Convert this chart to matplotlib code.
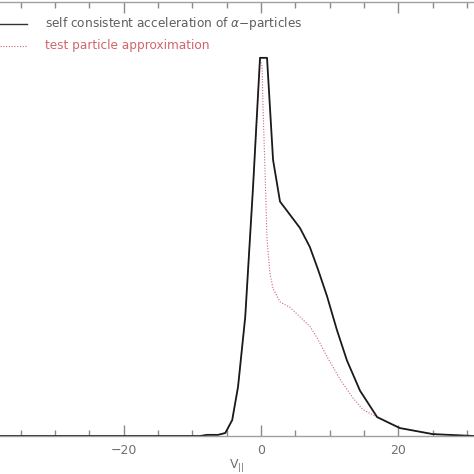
import matplotlib
matplotlib.use("Agg")
from matplotlib import pyplot as plt
from matplotlib.ticker import MultipleLocator

# self consistent acceleration (solid)
v_self = [-38, -8.9, -7.85, -6.25, -5.2, -4.2, -3.35, -2.3, -1.16, -0.15, 0.87, 1.75, 2.76,
          5.67, 7.1, 8.3, 9.6, 11.05, 12.5, 14.4, 16.9, 20.2, 25.0, 31]
f_self = [0, 0, 0.003, 0.003, 0.008, 0.042, 0.13, 0.315, 0.66, 1.0, 1.0, 0.73, 0.62,
          0.55, 0.50, 0.44, 0.37, 0.28, 0.20, 0.12, 0.05, 0.021, 0.005, 0]

# test particle approximation (dotted)
v_test = [-38, -8.9, -7.85, -6.25, -5.2, -4.2, -3.35, -2.3, -1.16, -0.15, 0.15, 0.29, 0.58,
          0.87, 1.3, 1.75, 2.76, 4.2, 5.67, 7.1, 8.15, 9.6, 11.5, 13.4, 14.8, 16.9, 20.2, 25.0, 31]
f_test = [0, 0, 0.003, 0.003, 0.008, 0.042, 0.13, 0.315, 0.66, 1.0, 0.976, 0.87, 0.70,
          0.52, 0.43, 0.39, 0.355, 0.34, 0.315, 0.29, 0.26, 0.21, 0.15, 0.10, 0.07, 0.05, 0.021, 0.005, 0]

labels = ["self consistent acceleration of $\\alpha$\u2212particles", "test particle approximation"]
xlabel = "V$_{||}$"

gray = "#5e5e5e"
red = "#d0646e"

fig = plt.figure(figsize=(4.74, 4.74), dpi=100)
ax = fig.add_axes([0, 38 / 474, 1, (436 - 1.5) / 474])

ax.plot(v_test, f_test, ls=(0, (1, 1.5)), lw=0.8, color=red)
ax.plot(v_self, f_self, ls="-", lw=1.3, color="#1a1a1a")

ax.set_xlim(-38, 31)
ax.set_ylim(0, 1.149)

for s in ["left", "right"]:
    ax.spines[s].set_visible(False)
for s in ["top", "bottom"]:
    ax.spines[s].set_color("#a0a0a0")
    ax.spines[s].set_linewidth(1.0)

ax.xaxis.set_major_locator(MultipleLocator(20))
ax.xaxis.set_minor_locator(MultipleLocator(5))
ax.tick_params(axis="x", which="both", direction="in", top=True, bottom=True,
               color="#8a8a8a", labelcolor="#707070", labelsize=9, pad=6)
ax.tick_params(axis="x", which="major", length=8, width=1)
ax.tick_params(axis="x", which="minor", length=4, width=1)
ax.set_yticks([])
ax.set_xlabel(xlabel, color="#707070", fontsize=9, labelpad=0)

# legend drawn by hand in axes-fraction coords
ax.plot([0, 27 / 474], [1 - 22 / 434.5, 1 - 22 / 434.5], transform=ax.transAxes,
        color="#333333", lw=1.0, clip_on=False)
ax.plot([0, 27 / 474], [1 - 44 / 434.5, 1 - 44 / 434.5], transform=ax.transAxes,
        color=red, lw=0.8, ls=(0, (1, 1.5)), clip_on=False)
ax.text(45 / 474, 1 - 22 / 434.5, labels[0], transform=ax.transAxes, color=gray,
        fontsize=8.7, va="center", ha="left")
ax.text(45 / 474, 1 - 44 / 434.5, labels[1], transform=ax.transAxes, color=red,
        fontsize=8.7, va="center", ha="left")

fig.savefig("out.png", dpi=100)
